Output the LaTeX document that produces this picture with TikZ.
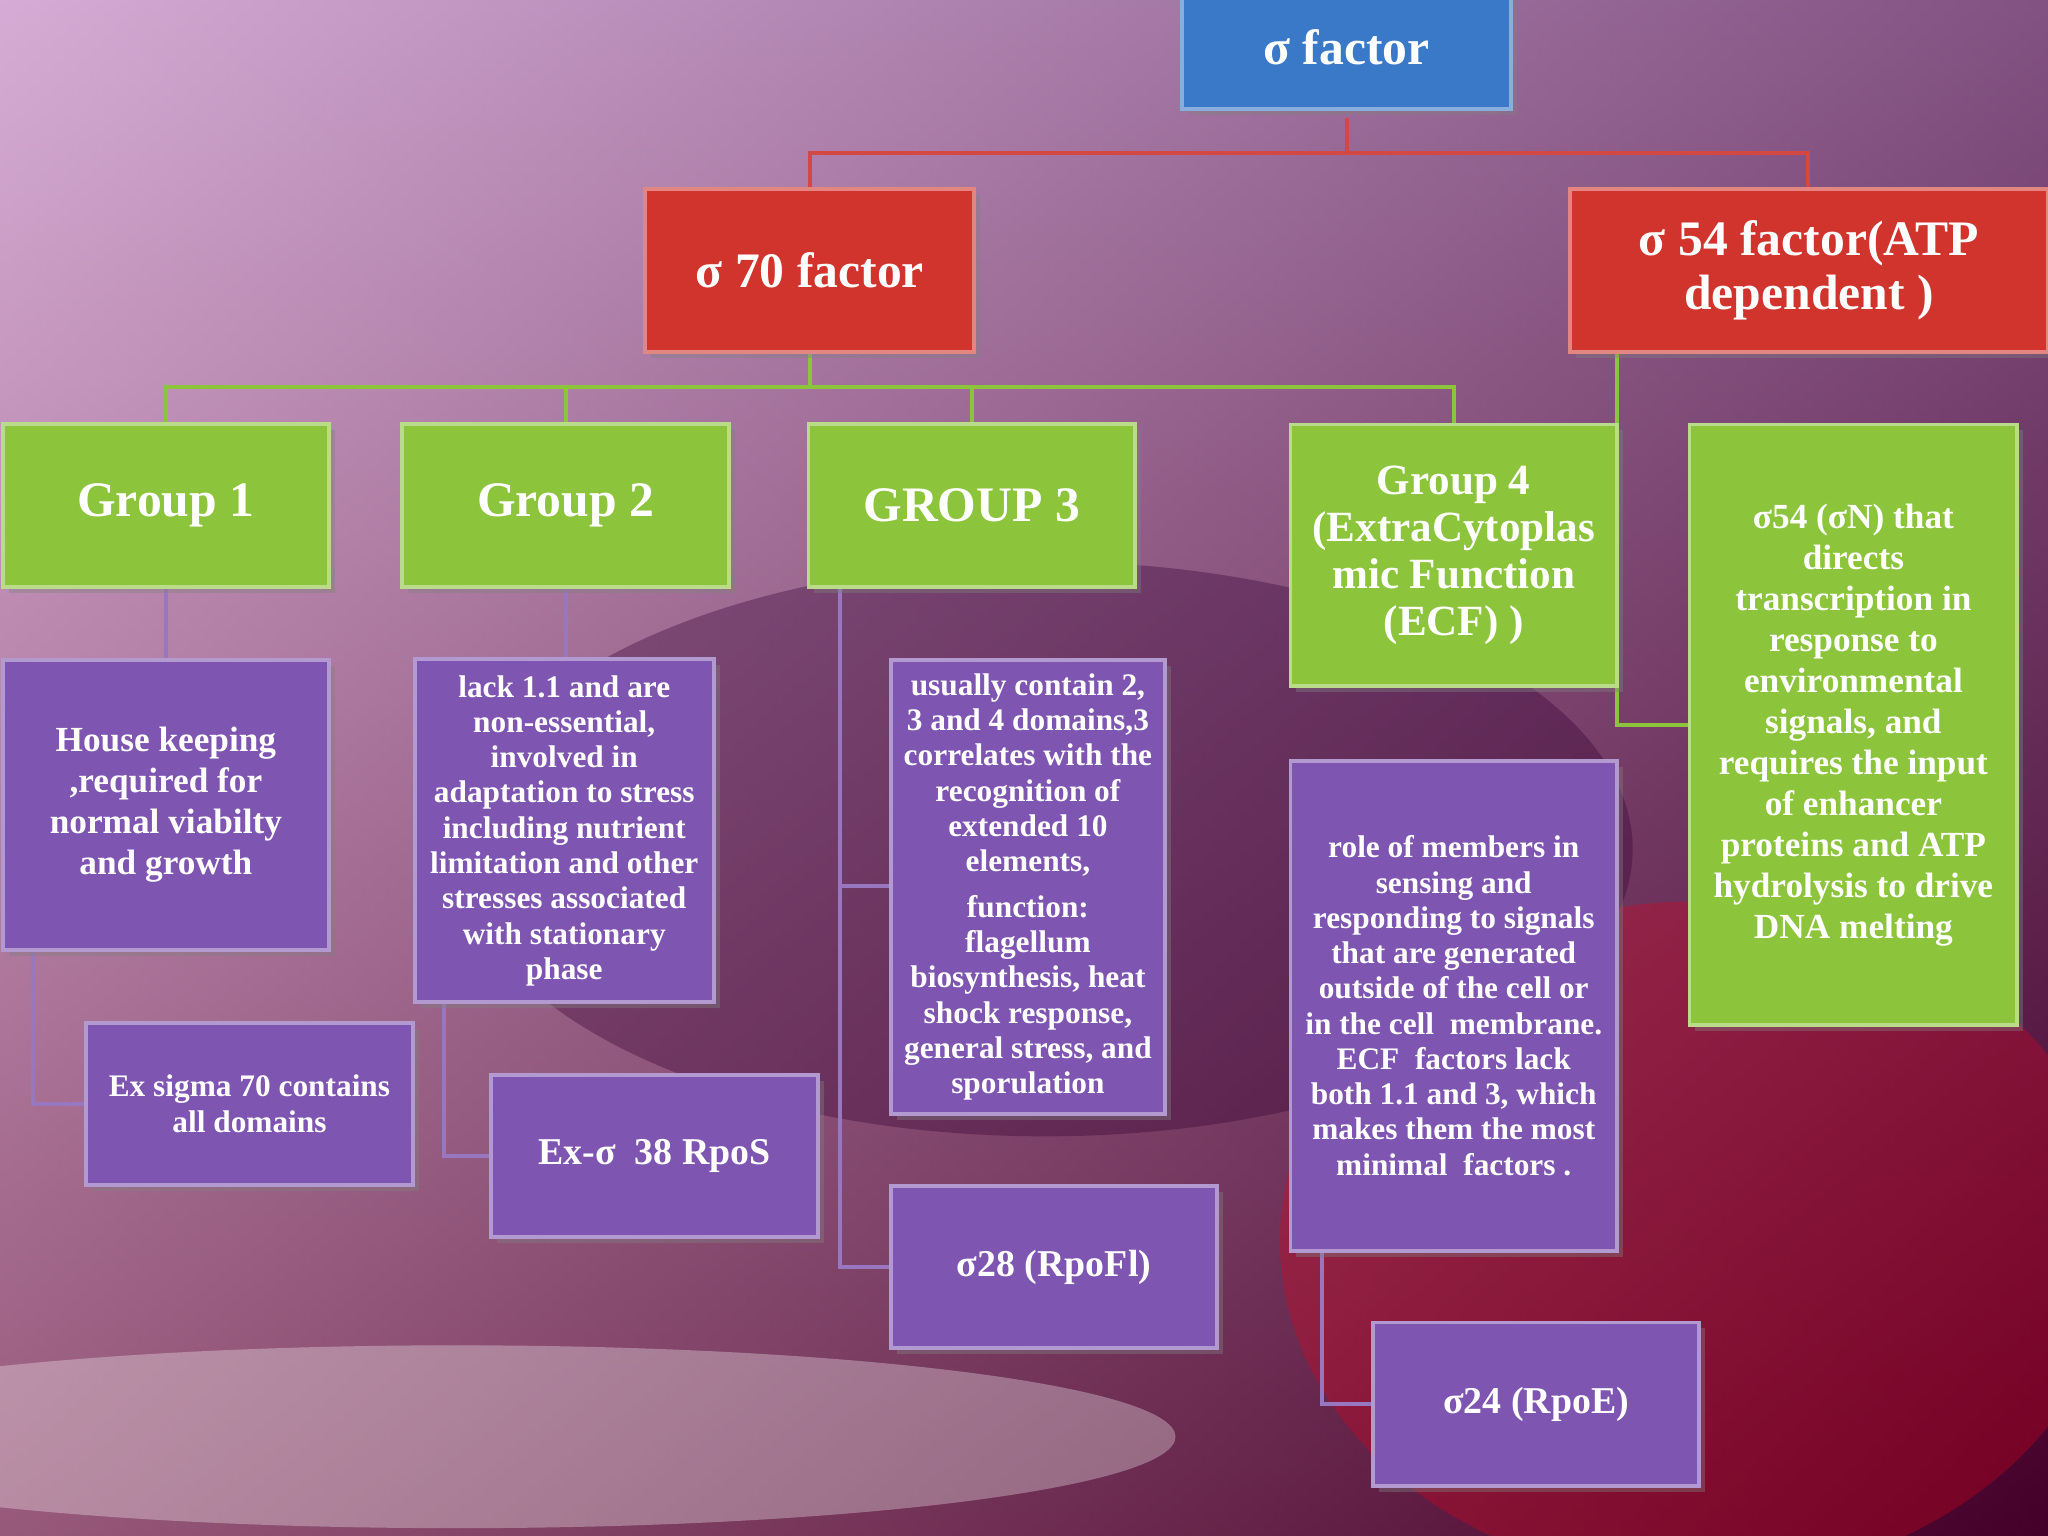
\documentclass[tikz,border=0pt]{standalone}
\usepackage{fontspec}
\setmainfont{Liberation Serif}
\usetikzlibrary{shadows}
\definecolor{bblue}{HTML}{3A78C8}
\definecolor{rred}{HTML}{D0342C}
\definecolor{ggreen}{HTML}{8CC43C}
\definecolor{ppur}{HTML}{7E55B0}
\tikzset{
 box/.style={draw=#1!60!white,line width=1.5pt,fill=#1,text=white,font=\bfseries,align=center,inner sep=1pt,drop shadow={opacity=0.4}},
 title/.style={font=\bfseries\fontsize{19}{20.5}\selectfont},
 desc/.style={font=\bfseries\fontsize{12}{13.5}\selectfont},
 redl/.style={draw=rred!90!white,line width=1.5pt},
 grl/.style={draw=ggreen,line width=1.5pt},
 pul/.style={draw=ppur!80!white,line width=1.5pt},
}
\begin{document}
\begin{tikzpicture}[x=0.5pt,y=-0.5pt]
\useasboundingbox (0,0) rectangle (1568,1176);
\shade[top color=violet!35!white,bottom color=purple!45!black] (0,0) rectangle (1568,1176);
\shade[left color=violet!30!white,right color=violet!40!black,opacity=0.5] (0,0) rectangle (1568,1176);
\fill[white,opacity=0.3] (350,1100) ellipse (550 and 70);
\fill[violet!40!black,opacity=0.35] (800,650) ellipse (450 and 220);
\fill[red!60!purple,opacity=0.3] (1300,950) ellipse (320 and 260);

\coordinate (sfd) at (1031,117);
\coordinate (s70d) at (620,296);
\coordinate (s54c) at (1238,555);
\draw[redl] (1031,90) -- (sfd) -- (620,117) -- (620,145);
\draw[redl] (sfd) -- (1384,117) -- (1384,145);
\draw[grl] (620,270) -- (s70d) -- (127,296) -- (127,325);
\draw[grl] (433,296) -- (433,325);
\draw[grl] (744,296) -- (744,325);
\draw[grl] (s70d) -- (1113,296) -- (1113,325);
\draw[grl] (1238,270) -- (s54c) -- (1294,555);
\draw[pul] (127,450) -- (127,505);
\draw[pul] (433,450) -- (433,505);
\draw[pul] (25,727) -- (25,845) -- (66,845);
\draw[pul] (340,768) -- (340,885) -- (376,885);
\draw[pul] (643,450) -- (643,970) -- (682,970);
\draw[pul] (643,678) -- (682,678);
\draw[pul] (1012,957) -- (1012,1075) -- (1051,1075);

\node[box=bblue,title,minimum width=126pt,minimum height=47.5pt] (sf) at (1031,36) {σ factor};
\node[box=rred,title,minimum width=126pt,minimum height=62.5pt] (s70) at (620,207) {σ 70 factor};
\node[box=rred,title,minimum width=183pt,minimum height=62.5pt] (s54) at (1385,207) {σ 54 factor(ATP\\dependent )};
\node[box=ggreen,title,minimum width=125pt,minimum height=62.5pt] (g1) at (127,387) {Group 1};
\node[box=ggreen,title,minimum width=125pt,minimum height=62.5pt] (g2) at (433,387) {Group 2};
\node[box=ggreen,title,minimum width=125pt,minimum height=62.5pt] (g3) at (744,387) {GROUP 3};
\node[box=ggreen,font=\bfseries\fontsize{16.5}{18}\selectfont,minimum width=125pt,minimum height=100pt] (g4) at (1113,425) {Group 4\\(ExtraCytoplas\\mic Function\\(ECF) )};
\node[box=ggreen,font=\bfseries\fontsize{13.5}{15.7}\selectfont,minimum width=125.5pt,minimum height=230pt] (s54d) at (1419,555) {σ54 (σN) that\\directs\\transcription in\\response to\\environmental\\signals, and\\requires the input\\of enhancer\\proteins and ATP\\hydrolysis to drive\\DNA melting};
\node[box=ppur,font=\bfseries\fontsize{13.5}{15.7}\selectfont,minimum width=125pt,minimum height=111pt] (hk) at (127,616) {House keeping\\,required for\\normal viabilty\\and growth};
\node[box=ppur,desc,minimum width=114.5pt,minimum height=131.5pt] (lk) at (432,636) {lack 1.1 and are\\non-essential,\\involved in\\adaptation to stress\\including nutrient\\limitation and other\\stresses associated\\with stationary\\phase};
\node[box=ppur,desc,minimum width=105pt,minimum height=174pt] (us) at (787,679) {usually contain 2,\\3 and 4 domains,3\\correlates with the\\recognition of\\extended 10\\elements,\\[4pt]function:\\flagellum\\biosynthesis, heat\\shock response,\\general stress, and\\sporulation};
\node[box=ppur,desc,minimum width=125pt,minimum height=62pt] (e70) at (191,845) {Ex sigma 70 contains\\all domains};
\node[box=ppur,font=\bfseries\fontsize{14.5}{16}\selectfont,minimum width=125pt,minimum height=62pt] (e38) at (501,885) {Ex-σ ~38 RpoS};
\node[box=ppur,font=\bfseries\fontsize{14.5}{16}\selectfont,minimum width=125pt,minimum height=62pt] (s28) at (807,970) {σ28 (RpoFl)};
\node[box=ppur,desc,minimum width=125pt,minimum height=187.5pt] (role) at (1113,770) {role of members in\\sensing and\\responding to signals\\that are generated\\outside of the cell or\\in the cell ~membrane.\\ECF ~factors lack\\both 1.1 and 3, which\\makes them the most\\minimal ~factors .};
\node[box=ppur,font=\bfseries\fontsize{14.5}{16}\selectfont,minimum width=125pt,minimum height=62.5pt] (s24) at (1176,1075) {σ24 (RpoE)};
\end{tikzpicture}
\end{document}
